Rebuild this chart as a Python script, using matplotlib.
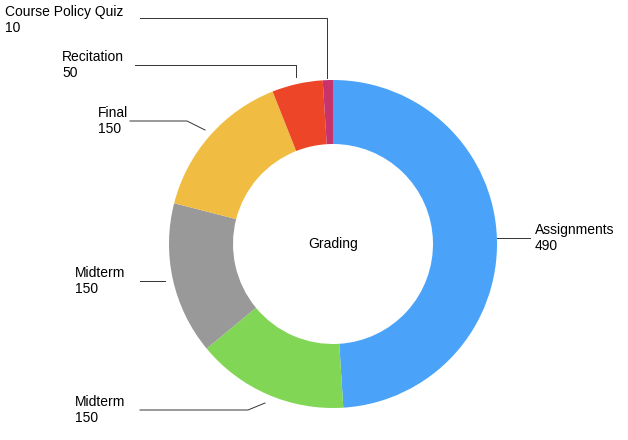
import matplotlib
matplotlib.use("Agg")
import matplotlib.pyplot as plt

labels = ["Assignments", "Midterm", "Midterm", "Final", "Recitation", "Course Policy Quiz"]
values = [490, 150, 150, 150, 50, 10]
colors = ["#4aa3f8", "#82d655", "#999999", "#f0bd42", "#ec4527", "#c7336b"]
title = "Grading"

fig = plt.figure(figsize=(6.28, 4.4), dpi=100)
ax = fig.add_axes([0, 0, 1, 1])
ax.set_xlim(0, 628)
ax.set_ylim(440, 0)
ax.set_aspect("equal")
ax.axis("off")

cx, cy, R = 333, 244, 164
ax.pie(values, colors=colors, startangle=-90, counterclock=True, center=(cx, cy), radius=R,
       wedgeprops=dict(width=64, edgecolor="none"), frame=True)
ax.set_xlim(0, 628); ax.set_ylim(440, 0); ax.axis("off")
ax.text(cx, cy, title, ha="center", va="center", fontsize=10, family="Liberation Sans")

# leader line paths and label positions (pixel layout)
leaders = [
    ([(497, 238), (530, 238)], (535, 238), "left"),
    ([(265, 403), (248, 410), (140, 410)], (75, 410), "left"),
    ([(165, 281), (140, 281)], (75, 281), "left"),
    ([(205, 130), (187, 121), (130, 121)], (98, 121), "left"),
    ([(296, 77), (296, 65), (135, 65)], (62, 65), "left"),
    ([(327, 78), (327, 18), (140, 18)], (5, 20), "left"),
]
for (pts, (tx, ty), ha), lab, v in zip(leaders, labels, values):
    xs, ys = zip(*pts)
    ax.plot(xs, ys, color="#333333", lw=0.7)
    ax.text(tx, ty, f"{lab}\n{v}", ha=ha, va="center", fontsize=10,
            family="Liberation Sans", linespacing=1.15)

fig.savefig("out.png", dpi=100)
